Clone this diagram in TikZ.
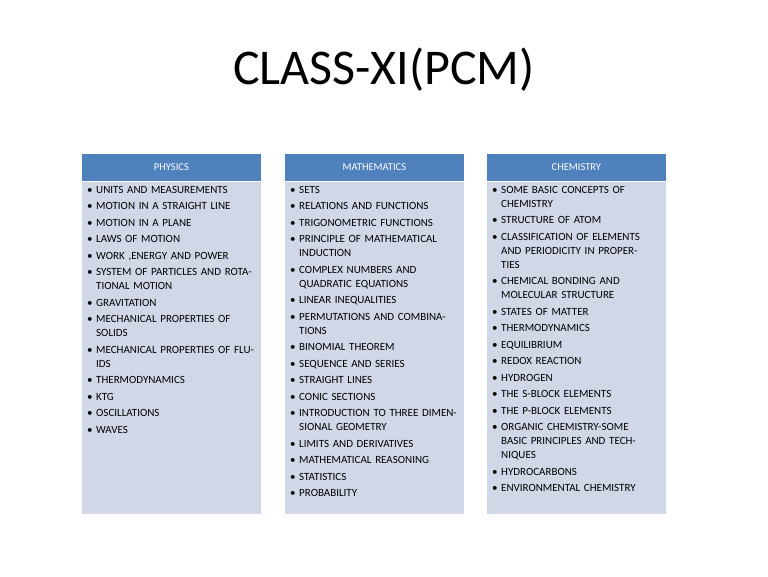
\documentclass[tikz,border=0pt]{standalone}
\usepackage{fontspec}
\setmainfont{Carlito}
\definecolor{hdr}{HTML}{4F81BD}
\definecolor{bdy}{HTML}{D0D8E8}
\newcommand{\itm}[1]{\noindent\hangindent=9pt\hangafter=1\makebox[9pt][l]{•}#1\par}
\tikzset{
 hbox/.style={fill=hdr,draw=white,line width=0.8pt,minimum width=180pt,minimum height=28pt,anchor=north west,inner sep=0pt,text=white,font=\fontsize{10.5}{12}\selectfont},
 bbox/.style={fill=bdy,draw=white,line width=0.8pt,anchor=north west,minimum width=180pt,inner sep=0pt},
 lst/.style={anchor=north west,text width=168pt,inner sep=0pt,align=left,font=\fontsize{11}{14}\selectfont\setlength{\parskip}{2.5pt}}
}
\begin{document}
\begin{tikzpicture}[x=1pt,y=-1pt]
\useasboundingbox (0,0) rectangle (768,576);
\node[font=\fontsize{50}{56}\selectfont] (title) at (384,70) {CLASS-XI(PCM)};
\foreach \n/\x/\t/\h in {p/81/PHYSICS/333, m/284/MATHEMATICS/333, c/486/CHEMISTRY/333}{
 \node[bbox,minimum height=\h pt] (\n b) at (\x,181) {};
 \node[hbox] (\n h) at (\x,153) {\t};
}
\node[lst] (pl) at (87,186) {
\itm{UNITS AND MEASUREMENTS}
\itm{MOTION IN A STRAIGHT LINE}
\itm{MOTION IN A PLANE}
\itm{LAWS OF MOTION}
\itm{WORK ,ENERGY AND POWER}
\itm{SYSTEM OF PARTICLES AND ROTATIONAL MOTION}
\itm{GRAVITATION}
\itm{MECHANICAL PROPERTIES OF SOLIDS}
\itm{MECHANICAL PROPERTIES OF FLUIDS}
\itm{THERMODYNAMICS}
\itm{KTG}
\itm{OSCILLATIONS}
\itm{WAVES}};
\node[lst] (ml) at (290,186) {
\itm{SETS}
\itm{RELATIONS AND FUNCTIONS}
\itm{TRIGONOMETRIC FUNCTIONS}
\itm{PRINCIPLE OF MATHEMATICAL INDUCTION}
\itm{COMPLEX NUMBERS AND QUADRATIC EQUATIONS}
\itm{LINEAR INEQUALITIES}
\itm{PERMUTATIONS AND COMBINATIONS}
\itm{BINOMIAL THEOREM}
\itm{SEQUENCE AND SERIES}
\itm{STRAIGHT LINES}
\itm{CONIC SECTIONS}
\itm{INTRODUCTION TO THREE DIMENSIONAL GEOMETRY}
\itm{LIMITS AND DERIVATIVES}
\itm{MATHEMATICAL REASONING}
\itm{STATISTICS}
\itm{PROBABILITY}};
\node[lst,text width=160pt] (cl) at (492,186) {
\itm{SOME BASIC CONCEPTS OF CHEMISTRY}
\itm{STRUCTURE OF ATOM}
\itm{CLASSIFICATION OF ELEMENTS AND PERIODICITY IN PROPERTIES}
\itm{CHEMICAL BONDING AND MOLECULAR STRUCTURE}
\itm{STATES OF MATTER}
\itm{THERMODYNAMICS}
\itm{EQUILIBRIUM}
\itm{REDOX REACTION}
\itm{HYDROGEN}
\itm{THE S-BLOCK ELEMENTS}
\itm{THE P-BLOCK ELEMENTS}
\itm{ORGANIC CHEMISTRY-SOME BASIC PRINCIPLES AND TECHNIQUES}
\itm{HYDROCARBONS}
\itm{ENVIRONMENTAL CHEMISTRY}};
\end{tikzpicture}
\end{document}
